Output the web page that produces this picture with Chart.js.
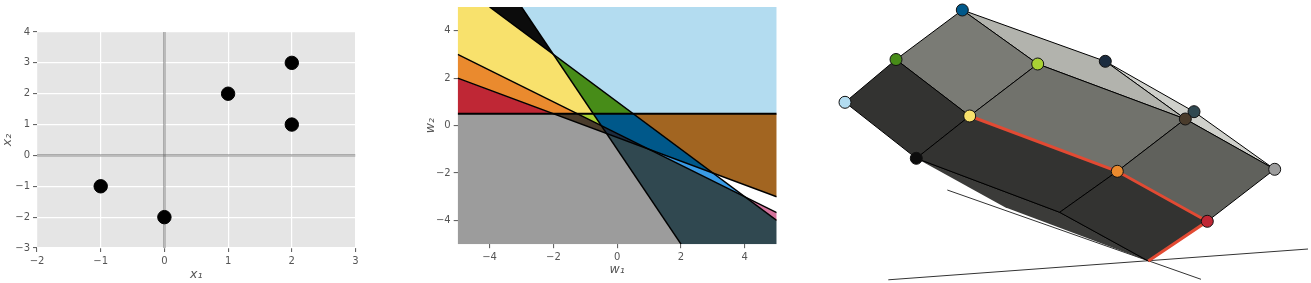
<!DOCTYPE html>
<html>
<head>
<meta charset="utf-8">
<title>points, weight space, cone</title>
<script src="https://cdn.jsdelivr.net/npm/chart.js@4"></script>
<style>
html, body { margin: 0; padding: 0; background: #fff; overflow: hidden; }
canvas { position: absolute; top: 0; filter: blur(0.35px); }
#points { left: 0; }
#weights { left: 420px; }
#cone { left: 820px; }
</style>
</head>
<body>
<canvas id="points" width="400" height="283"></canvas>
<canvas id="weights" width="380" height="283"></canvas>
<canvas id="cone" width="491" height="283"></canvas>
<script>
// left panel
var x1Values = [-1, 0, 1, 2, 2];
var x2Values = [-1, -2, 2, 1, 3];
var x1Ticks = [-2, -1, 0, 1, 2, 3];
var x2Ticks = [-3, -2, -1, 0, 1, 2, 3, 4];

// middle panel, corners of each region in (w1, w2)
var w1Ticks = [-4, -2, 0, 2, 4];
var w2Ticks = [-4, -2, 0, 2, 4];
var skyRegion = [[-3, 5], [-2, 3], [0.5, 0.5], [5, 0.5], [5, 5]];
var blackRegion = [[-4, 5], [-3, 5], [-2, 3]];
var yellowRegion = [[-5, 5], [-4, 5], [-2, 3], [-0.75, 0.5], [-1.25, 0.5], [-5, 3]];
var orangeRegion = [[-5, 3], [-1.25, 0.5], [-2, 0.5], [-5, 2]];
var redRegion = [[-5, 2], [-2, 0.5], [-5, 0.5]];
var greenRegion = [[-2, 3], [0.5, 0.5], [-0.75, 0.5]];
var limeRegion = [[-1.25, 0.5], [-0.75, 0.5], [-0.5, 0]];
var umberRegion = [[-2, 0.5], [-1.25, 0.5], [-0.5, 0], [-0.33, -0.33]];
var greyRegion = [[-5, 0.5], [-2, 0.5], [-0.33, -0.33], [2, -5], [-5, -5]];
var tealRegion = [[-0.33, -0.33], [1, -1], [4, -3], [5, -4], [5, -5], [2, -5]];
var navyRegion = [[-0.5, 0], [-0.33, -0.33], [1, -1]];
var blueRegion = [[-0.75, 0.5], [0.5, 0.5], [3, -2], [1, -1], [-0.5, 0]];
var azureRegion = [[1, -1], [3, -2], [4, -3]];
var whiteRegion = [[3, -2], [5, -3], [5, -3.67], [4, -3]];
var pinkRegion = [[4, -3], [5, -3.67], [5, -4]];
var brownRegion = [[0.5, 0.5], [5, 0.5], [5, -3], [3, -2]];

// the boundary lines between those regions
var flatLine = [[-5, 0.5], [5, 0.5]];
var halfLine = [[-5, 2], [5, -3]];
var thirdLine = [[-5, 3], [5, -3.67]];
var unitLine = [[-4, 5], [5, -4]];
var steepLine = [[-3, 5], [2, -5]];

// right panel in page coordinates
var vBlue = [962.3, 10];
var vGreen = [896, 59.5];
var vSky = [845, 102.3];
var vBlack = [916.3, 158.3];
var vYellow = [969.7, 116];
var vLime = [1037.7, 64];
var vNavy = [1105.3, 61.3];
var vTeal = [1194, 111.7];
var vUmber = [1185.3, 119];
var vGrey = [1274.7, 169.3];
var vOrange = [1117.3, 171.3];
var vRed = [1207.3, 221.3];
var vKink = [1059.7, 212.3];
var vApex = [1148.3, 261];
var vUnder = [1005, 207.3];
var axisA = [[947.3, 190], [1201, 279.3]];
var axisB = [[888.3, 279.8], [1308, 249]];
var ridge = [vYellow, vOrange, vRed, vApex];

function toXY(list) {
    return list.map(function (p) { return { x: p[0], y: p[1] }; });
}

function closed(list) {
    return toXY(list.concat([list[0]]));
}

function region(list, color, width) {
    return {
        data: closed(list),
        showLine: true,
        fill: 'shape',
        backgroundColor: color,
        borderColor: '#000',
        borderWidth: width,
        pointRadius: 0,
        tension: 0,
        clip: 0
    };
}

function stroke(list, color, width) {
    return {
        data: toXY(list),
        showLine: true,
        fill: false,
        borderColor: color,
        borderWidth: width,
        pointRadius: 0,
        tension: 0,
        clip: 0
    };
}

// later entries in the list end up on top
function layered(list) {
    list.forEach(function (d, i) { d.order = list.length - i; });
    return list;
}

function axis(min, max, ticks, title, fixed, titlePad, gridOn) {
    return {
        min: min,
        max: max,
        border: { display: false },
        grid: {
            display: true,
            drawOnChartArea: gridOn,
            color: '#fff',
            lineWidth: 1.2,
            tickColor: '#555',
            tickLength: 4,
            tickWidth: 1
        },
        ticks: {
            autoSkip: false,
            maxRotation: 0,
            color: '#555',
            padding: 3,
            font: { family: 'DejaVu Sans', size: 10 },
            callback: function (v) { return String(v).replace('-', '\u2212'); }
        },
        title: {
            display: true,
            text: title,
            color: '#555',
            padding: titlePad,
            font: { family: 'DejaVu Sans', size: 12.5, style: 'italic' }
        },
        afterBuildTicks: function (s) {
            s.ticks = ticks.map(function (v) { return { value: v }; });
        },
        afterFit: function (s) {
            if (s.isHorizontal()) s.height = fixed;
            else s.width = fixed;
            // labels overhanging the ends must not shrink the plot
            s.paddingTop = s.paddingBottom = s.paddingLeft = s.paddingRight = 0;
        }
    };
}

var panelShade = {
    id: 'panelShade',
    beforeDraw: function (chart) {
        var a = chart.chartArea;
        chart.ctx.fillStyle = '#e5e5e5';
        chart.ctx.fillRect(a.left, a.top, a.right - a.left, a.bottom - a.top);
    }
};

var quiet = { legend: { display: false }, tooltip: { enabled: false } };

new Chart(document.getElementById('points'), {
    type: 'scatter',
    plugins: [panelShade],
    data: {
        datasets: layered([
            stroke([[-2, 0], [3, 0]], 'rgba(90,90,90,0.42)', 2.8),
            stroke([[0, -3], [0, 4]], 'rgba(90,90,90,0.42)', 2.8),
            {
                data: x1Values.map(function (v, i) { return { x: v, y: x2Values[i] }; }),
                backgroundColor: '#000',
                borderColor: '#000',
                pointRadius: 6.7
            }
        ])
    },
    options: {
        responsive: false,
        animation: false,
        layout: { autoPadding: false, padding: { left: 0, right: 44.5, top: 32, bottom: 0 } },
        plugins: quiet,
        scales: {
            x: axis(-2, 3, x1Ticks, 'x\u2081', 35, { top: 2, bottom: 1 }, true),
            y: axis(-3, 4, x2Ticks, 'x\u2082', 37, { top: 0, bottom: 1 }, true)
        }
    }
});

new Chart(document.getElementById('weights'), {
    type: 'scatter',
    data: {
        datasets: layered([
            region(greyRegion, '#9c9c9c', 0),
            region(skyRegion, '#b3dcf0', 0),
            region(tealRegion, '#304850', 0),
            region(brownRegion, '#a26521', 0),
            region(blueRegion, '#00588a', 0),
            region(navyRegion, '#1b2c3f', 0),
            region(azureRegion, '#3a9be5', 0),
            region(whiteRegion, '#ffffff', 0),
            region(pinkRegion, '#d4739c', 0),
            region(redRegion, '#bf2735', 0),
            region(orangeRegion, '#ea8a2e', 0),
            region(yellowRegion, '#f8e16c', 0),
            region(greenRegion, '#478c18', 0),
            region(limeRegion, '#a9d134', 0),
            region(umberRegion, '#4a3c2c', 0),
            region(blackRegion, '#0c0c0c', 0),
            stroke(halfLine, '#000', 1.5),
            stroke(thirdLine, '#000', 1.5),
            stroke(unitLine, '#000', 1.5),
            stroke(steepLine, '#000', 1.5),
            stroke(flatLine, '#000', 2)
        ])
    },
    options: {
        responsive: false,
        animation: false,
        layout: { autoPadding: false, padding: { left: 0, right: 23.3, top: 7, bottom: 0 } },
        plugins: quiet,
        scales: {
            x: axis(-5, 5, w1Ticks, 'w\u2081', 38.8, { top: 2, bottom: 6 }, false),
            y: axis(-5, 5, w2Ticks, 'w\u2082', 37.7, { top: 3, bottom: 1 }, false)
        }
    }
});

new Chart(document.getElementById('cone'), {
    type: 'scatter',
    data: {
        datasets: layered([
            stroke(axisA, '#333', 1),
            stroke(axisB, '#333', 1),
            region([vNavy, vUmber, vGrey, vTeal], '#cfd0cb', 1),
            region([vBlue, vLime, vUmber, vNavy], '#b2b3ad', 1),
            region([vBlack, vUnder, vApex, vKink], '#3b3b39', 0),
            stroke([vBlack, vKink, vApex], '#000', 1),
            region([vBlue, vGreen, vYellow, vLime], '#7a7b75', 1),
            region([vLime, vYellow, vOrange, vUmber], '#71726c', 1),
            region([vUmber, vOrange, vRed, vGrey], '#60615c', 1),
            region([vSky, vGreen, vYellow, vBlack], '#333331', 1),
            region([vBlack, vYellow, vOrange, vKink], '#333331', 1),
            region([vKink, vOrange, vRed, vApex], '#333331', 1),
            stroke(ridge, '#e24a33', 3),
            {
                data: toXY([vBlue, vGreen, vSky, vBlack, vYellow, vLime, vNavy, vTeal, vUmber, vGrey, vOrange, vRed]),
                backgroundColor: ['#00588a', '#478c18', '#b3dcf0', '#0c0c0c', '#f8e16c', '#a9d134', '#1b2c3f', '#304850', '#4a3c2c', '#9c9c9c', '#ea8a2e', '#bf2735'],
                borderColor: '#111',
                borderWidth: 1,
                pointRadius: 6
            }
        ])
    },
    options: {
        responsive: false,
        animation: false,
        layout: { autoPadding: false },
        plugins: quiet,
        scales: {
            x: { display: false, min: 820, max: 1311 },
            y: { display: false, min: 0, max: 283, reverse: true }
        }
    }
});
</script>
</body>
</html>
